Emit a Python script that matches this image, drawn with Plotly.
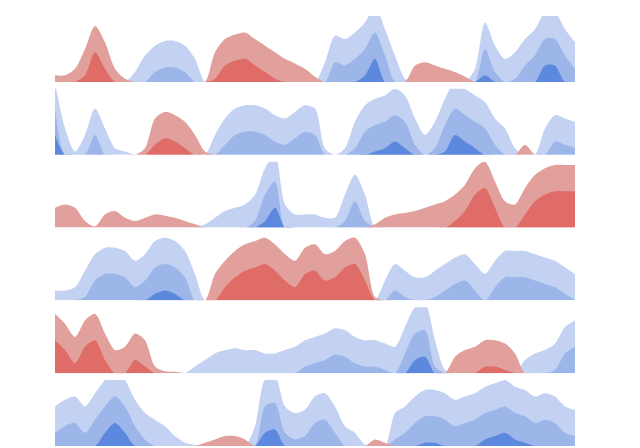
import numpy as np
import plotly.graph_objects as go
from plotly.subplots import make_subplots

# one value per step across each row; positive = blue, negative = red
row1 = [-0.1, -0.1, -0.2, -0.5, -0.85, -0.6, -0.2, -0.05, 0.15, 0.4, 0.55, 0.62, 0.62, 0.55, 0.35, 0.0,
        -0.45, -0.65, -0.72, -0.75, -0.65, -0.55, -0.45, -0.35, -0.28, -0.2, -0.08, 0.3, 0.7, 0.65, 0.75,
        0.9, 1.15, 0.8, 0.4, 0.05, -0.25, -0.3, -0.25, -0.2, -0.15, -0.08, 0.2, 0.9, 0.55, 0.35, 0.45,
        0.65, 0.8, 1.05, 1.05, 0.8, 0.6]
row2 = [1.1, 0.4, 0.05, 0.3, 0.7, 0.4, 0.1, 0.05, 0.0, -0.1, -0.55, -0.65, -0.6, -0.5, -0.3, -0.05,
        0.3, 0.55, 0.7, 0.75, 0.75, 0.7, 0.6, 0.55, 0.65, 0.75, 0.7, 0.1, 0.0, 0.1, 0.5, 0.75, 0.85,
        0.9, 1.0, 0.9, 0.55, 0.3, 0.5, 0.85, 1.1, 1.0, 0.9, 0.8, 0.55, 0.4, 0.1, -0.15, 0.0, 0.4, 0.6,
        0.55, 0.5]
row3 = [-0.3, -0.35, -0.3, -0.1, -0.02, -0.2, -0.25, -0.15, -0.1, -0.15, -0.2, -0.18, -0.15, -0.1,
        -0.05, 0.05, 0.15, 0.25, 0.3, 0.35, 0.5, 0.9, 1.1, 0.35, 0.2, 0.2, 0.2, 0.15, 0.15, 0.5, 0.8,
        0.5, -0.05, -0.15, -0.2, -0.22, -0.25, -0.3, -0.35, -0.4, -0.5, -0.65, -0.9, -1.0, -0.7, -0.4,
        -0.35, -0.6, -0.8, -0.9, -0.95, -0.95, -0.95]
row4 = [0.15, 0.15, 0.2, 0.45, 0.7, 0.8, 0.8, 0.75, 0.6, 0.7, 0.9, 0.95, 0.9, 0.75, 0.4, 0.0, -0.4,
        -0.6, -0.75, -0.85, -0.9, -0.95, -0.85, -0.7, -0.6, -0.8, -0.85, -0.7, -0.75, -0.9, -0.95, -0.7,
        -0.05, 0.3, 0.55, 0.45, 0.35, 0.35, 0.45, 0.55, 0.65, 0.7, 0.55, 0.4, 0.6, 0.75, 0.75, 0.75,
        0.7, 0.65, 0.6, 0.5, 0.4]
row5 = [-0.9, -0.75, -0.55, -0.8, -0.9, -0.6, -0.35, -0.4, -0.6, -0.5, -0.1, -0.03, -0.02, 0.0, 0.1,
        0.2, 0.3, 0.35, 0.38, 0.35, 0.35, 0.3, 0.3, 0.35, 0.4, 0.5, 0.55, 0.6, 0.68, 0.65, 0.55, 0.5,
        0.5, 0.45, 0.4, 0.7, 1.0, 1.05, 0.5, 0.05, -0.25, -0.35, -0.4, -0.5, -0.5, -0.45, -0.3, 0.2,
        0.3, 0.35, 0.45, 0.7, 0.8]
row6 = [0.6, 0.7, 0.75, 0.6, 0.8, 1.0, 1.15, 1.0, 0.7, 0.5, 0.4, 0.3, 0.15, 0.05, 0.02, -0.05, -0.1,
        -0.15, -0.15, -0.1, 0.3, 1.0, 1.05, 0.6, 0.5, 0.55, 0.75, 0.8, 0.6, 0.3, 0.2, 0.02, -0.1, -0.05,
        0.5, 0.6, 0.75, 0.85, 0.85, 0.8, 0.7, 0.75, 0.8, 0.9, 0.95, 1.0, 0.9, 0.85, 0.75, 0.8, 0.75,
        0.6, 0.55]
rows = [row1, row2, row3, row4, row5, row6]

band = 0.4
blues = ["#c3d2f2", "#9db6ea", "#5c89de"]
reds = ["#e1a09c", "#e06c68"]

fig = make_subplots(rows=6, cols=1, shared_xaxes=True, vertical_spacing=0.016)

for r, vals in enumerate(rows, start=1):
    v = np.array(vals)
    x = np.arange(len(v))
    for sign, colors in ((1, blues), (-1, reds)):
        for k, c in enumerate(colors):
            y = np.clip(sign * v - k * band, 0, None)
            fig.add_trace(go.Scatter(x=x, y=y, mode="lines", line=dict(width=0, shape="spline", smoothing=0.8),
                                     fill="tozeroy", fillcolor=c, hoverinfo="skip"), row=r, col=1)
    fig.update_yaxes(range=[0, 1], visible=False, row=r, col=1)
    fig.update_xaxes(range=[0, len(v) - 1], visible=False, row=r, col=1)

fig.update_layout(width=640, height=448, showlegend=False, plot_bgcolor="white", paper_bgcolor="white",
                  margin=dict(l=47, r=73, t=8, b=10))
fig.write_html("out.html")
